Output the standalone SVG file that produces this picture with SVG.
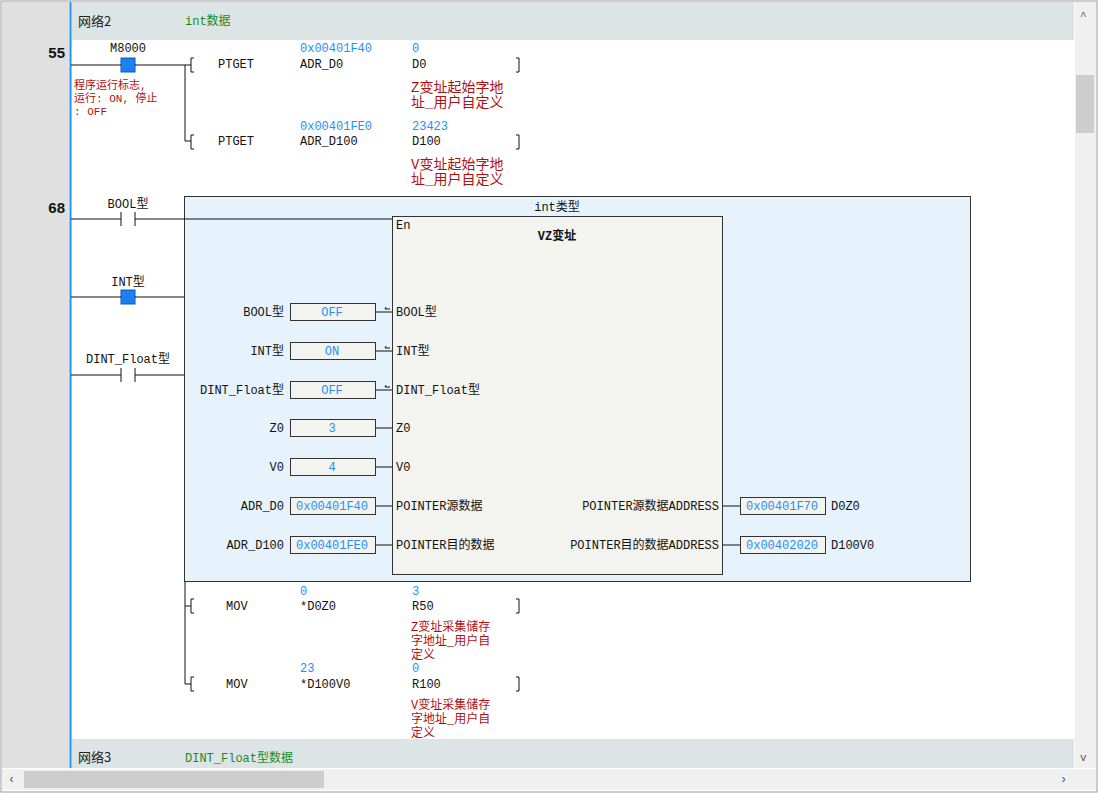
<svg xmlns="http://www.w3.org/2000/svg" width="1098" height="793" viewBox="0 0 1098 793">
<style>
text{font-family:"Liberation Mono","DejaVu Sans Mono","Noto Sans CJK SC",monospace;font-size:12px;fill:#111}
.b{fill:#1e8fff}.r{fill:#b01010}.g{fill:#1a8a1a}.h{font-family:"Noto Sans CJK SC",sans-serif;font-size:13px;fill:#222}
.n{font-family:"Liberation Sans",sans-serif;font-weight:bold;font-size:15px}
.w{stroke:#111;stroke-width:1;fill:none}
.ib{fill:#f3f3ef;stroke:#333;stroke-width:1}
.e{text-anchor:end}.m{text-anchor:middle}
</style>
<rect x="0" y="0" width="1098" height="793" fill="#fff"/>
<rect x="1" y="1" width="1096" height="791" fill="#fff" stroke="#999"/>
<rect x="2" y="2" width="67" height="766" fill="#e0e0e0"/>
<line x1="70.5" y1="2" x2="70.5" y2="768" stroke="#1e8fff" stroke-width="2"/>
<rect x="72" y="2" width="1002" height="38" fill="#dde4e6"/>
<text class="h" x="78" y="26">网络2</text><text class="g" x="185" y="25">int数据</text>
<rect x="72" y="739" width="1002" height="29" fill="#dde4e6"/>
<text class="h" x="78" y="762">网络3</text><text class="g" x="185" y="762">DINT_Float型数据</text>
<g id="scroll">
<rect x="1075" y="2" width="21" height="766" fill="#f0f0f0"/>
<rect x="1076" y="75" width="18" height="58" fill="#cdcdcd"/>
<text x="1080" y="19" style="font-size:11px;fill:#555">^</text>
<text x="1080" y="761" style="font-size:11px;fill:#555">v</text>
<rect x="2" y="769" width="1094" height="21" fill="#f0f0f0"/>
<rect x="24" y="771" width="300" height="17" fill="#cdcdcd"/>
<text x="8" y="783" style="fill:#555">‹</text><text x="1060" y="783" style="fill:#555">›</text>
</g>
<text class="n e" x="65" y="58">55</text>
<text class="n e" x="65" y="213">68</text>
<g id="m8000"><rect x="121" y="58" width="14" height="14" fill="#1e7fef" stroke="#0b5cbf"/>
<text class="m" x="128" y="52">M8000</text>
<text class="r" x="74" y="89" style="font-size:11px">程序运行标志,</text>
<text class="r" x="74" y="102" style="font-size:11px">运行: ON, 停止</text>
<text class="r" x="74" y="115" style="font-size:11px">: OFF</text></g>
<g id="ptget1"><text x="218" y="68">PTGET</text><text class="b" x="300" y="52">0x00401F40</text><text x="300" y="68">ADR_D0</text>
<text class="b" x="412" y="52">0</text><text x="412" y="68">D0</text>
<text class="r" x="411" y="92" style="font-size:14px">Z变址起始字地</text><text class="r" x="411" y="107" style="font-size:14px">址_用户自定义</text></g>
<g id="ptget2"><text x="218" y="145">PTGET</text><text class="b" x="300" y="130">0x00401FE0</text><text x="300" y="145">ADR_D100</text>
<text class="b" x="412" y="130">23423</text><text x="412" y="145">D100</text>
<text class="r" x="411" y="169" style="font-size:14px">V变址起始字地</text><text class="r" x="411" y="184" style="font-size:14px">址_用户自定义</text></g>
<g id="contacts"><text class="m" x="128" y="208">BOOL型</text><text class="m" x="128" y="286">INT型</text>
<rect x="121" y="290" width="14" height="14" fill="#1e7fef" stroke="#0b5cbf"/>
<text class="m" x="128" y="363">DINT_Float型</text></g>
<g id="vzbox">
<rect x="184.5" y="196.5" width="786" height="385" fill="#e6f3fd" stroke="#333"/>
<text class="m" x="557" y="211">int类型</text>
<rect class="ib" x="392.5" y="216.5" width="330" height="358"/>
<text x="396" y="229">En</text>
<text class="m" x="557" y="240" style="font-weight:bold">VZ变址</text>
<g id="in"><rect class="ib" x="290.5" y="303.5" width="85" height="17"/><text class="e" x="284" y="316">BOOL型</text><text class="b m" x="332" y="316">OFF</text><text x="396" y="316">BOOL型</text>
<rect class="ib" x="290.5" y="342.5" width="85" height="17"/><text class="e" x="284" y="355">INT型</text><text class="b m" x="332" y="355">ON</text><text x="396" y="355">INT型</text>
<rect class="ib" x="290.5" y="381.5" width="85" height="17"/><text class="e" x="284" y="394">DINT_Float型</text><text class="b m" x="332" y="394">OFF</text><text x="396" y="394">DINT_Float型</text>
<rect class="ib" x="290.5" y="419.5" width="85" height="17"/><text class="e" x="284" y="432">Z0</text><text class="b m" x="332" y="432">3</text><text x="396" y="432">Z0</text>
<rect class="ib" x="290.5" y="458.5" width="85" height="17"/><text class="e" x="284" y="471">V0</text><text class="b m" x="332" y="471">4</text><text x="396" y="471">V0</text>
<rect class="ib" x="290.5" y="497.5" width="85" height="17"/><text class="e" x="284" y="510">ADR_D0</text><text class="b m" x="332" y="510">0x00401F40</text><text x="396" y="510">POINTER源数据</text>
<rect class="ib" x="290.5" y="536.5" width="85" height="17"/><text class="e" x="284" y="549">ADR_D100</text><text class="b m" x="332" y="549">0x00401FE0</text><text x="396" y="549">POINTER目的数据</text></g>
<g id="out"><text class="e" x="719" y="510">POINTER源数据ADDRESS</text><rect class="ib" x="740.5" y="497.5" width="85" height="17"/><text class="b m" x="782" y="510">0x00401F70</text><text x="831" y="510">D0Z0</text>
<text class="e" x="719" y="549">POINTER目的数据ADDRESS</text><rect class="ib" x="740.5" y="536.5" width="85" height="17"/><text class="b m" x="782" y="549">0x00402020</text><text x="831" y="549">D100V0</text></g>
</g>
<g id="mov1"><text x="226" y="610">MOV</text><text class="b" x="300" y="595">0</text><text x="300" y="610">*D0Z0</text>
<text class="b" x="412" y="595">3</text><text x="412" y="610">R50</text>
<text class="r" x="411" y="631">Z变址采集储存</text><text class="r" x="411" y="645">字地址_用户自</text><text class="r" x="411" y="659">定义</text></g>
<g id="mov2"><text x="226" y="688">MOV</text><text class="b" x="300" y="672">23</text><text x="300" y="688">*D100V0</text>
<text class="b" x="412" y="672">0</text><text x="412" y="688">R100</text>
<text class="r" x="411" y="709">V变址采集储存</text><text class="r" x="411" y="723">字地址_用户自</text><text class="r" x="411" y="737">定义</text></g>
<g id="connectors">
<path class="w" d="M71 65H121M135 65H185M185 65V141M185 65H191M185 141H191"/>
<path class="w" d="M191 58H194M191 58V72H194M191 135H194M191 135V149H194"/>
<path class="w" d="M516 58H519V72H516M516 135H519V149H516"/>
<path class="w" d="M71 219H121M135 219H392M121 212V226M135 212V226"/>
<path class="w" d="M71 297H121M135 297H184"/>
<path class="w" d="M71 375H121M135 375H184M121 368V382M135 368V382"/>
<path class="w" d="M376 312H392M376 351H392M376 390H392M376 428H392M376 467H392M376 506H392M376 545H392"/>
<path class="w" d="M390 309H385l1 -2M390 348H385l1 -2M390 387H385l1 -2"/>
<path class="w" d="M723 506H740M723 545H740"/>
<path class="w" d="M185 582V684M185 606H191M185 684H191M191 599H194M191 599V613H194M191 677H194M191 677V691H194M516 599H519V613H516M516 677H519V691H516"/>
</g>
</svg>
